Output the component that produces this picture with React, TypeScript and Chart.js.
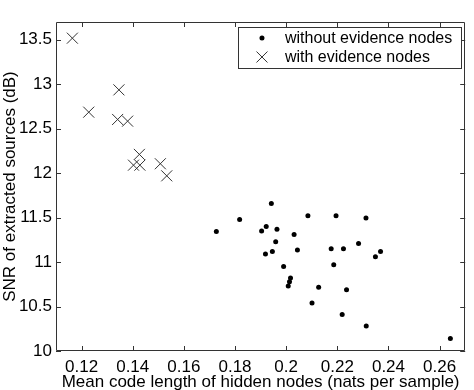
import React, { useEffect, useRef } from "react";
import { Chart, registerables } from "chart.js";

Chart.register(...registerables);

const withoutX = [0.1727, 0.1818, 0.1942, 0.1922, 0.1904, 0.1964, 0.1959, 0.1946, 0.1919, 0.2031, 0.2044, 0.199, 0.2017, 0.2013, 0.2008, 0.2085, 0.2127, 0.2101, 0.2195, 0.2176, 0.2224, 0.2186, 0.2236, 0.2219, 0.2312, 0.2283, 0.2349, 0.2369, 0.2313, 0.2642];
const withoutY = [11.345, 11.48, 11.66, 11.4, 11.35, 11.37, 11.23, 11.12, 11.09, 11.31, 11.135, 10.95, 10.82, 10.78, 10.73, 11.52, 10.716, 10.54, 11.52, 11.15, 11.15, 10.97, 10.69, 10.41, 11.495, 11.21, 11.06, 11.12, 10.28, 10.14];
const withX = [0.1164, 0.1228, 0.1346, 0.1341, 0.138, 0.1426, 0.1403, 0.1428, 0.1508, 0.1533];
const withY = [13.518, 12.686, 12.937, 12.604, 12.585, 12.211, 12.09, 12.09, 12.106, 11.97];

const xTicks = [0.12, 0.14, 0.16, 0.18, 0.2, 0.22, 0.24, 0.26];
const yTicks = [10, 10.5, 11, 11.5, 12, 12.5, 13, 13.5];
const seriesLabels = ["without evidence nodes", "with evidence nodes"];
const xTitle = "Mean code length of hidden nodes (nats per sample)";
const yTitle = "SNR of extracted sources (dB)";

const FONT = "'Liberation Sans', Arial, Helvetica, sans-serif";

const framePlugin = {
  id: "frame",
  afterDraw(chart: any) {
    const { ctx, chartArea: a, scales } = chart;
    ctx.save();
    ctx.strokeStyle = "#333";
    ctx.lineWidth = 1;
    ctx.beginPath();
    ctx.rect(Math.round(a.left) + 0.5, Math.round(a.top) + 0.5, Math.round(a.right - a.left) - 1, Math.round(a.bottom - a.top) - 1);
    ctx.stroke();
    const L = 5;
    ctx.beginPath();
    xTicks.forEach((v) => {
      const px = Math.round(scales.x.getPixelForValue(v)) + 0.5;
      ctx.moveTo(px, a.bottom);
      ctx.lineTo(px, a.bottom - L);
      ctx.moveTo(px, a.top);
      ctx.lineTo(px, a.top + L);
    });
    yTicks.forEach((v) => {
      const py = Math.round(scales.y.getPixelForValue(v)) + 0.5;
      ctx.moveTo(a.left, py);
      ctx.lineTo(a.left + L, py);
      ctx.moveTo(a.right, py);
      ctx.lineTo(a.right - L, py);
    });
    ctx.stroke();

    // legend
    ctx.font = `16px ${FONT}`;
    const tw = Math.max(...seriesLabels.map((s) => ctx.measureText(s).width));
    const boxRight = a.right - 4;
    const textX = boxRight - 9 - tw;
    const markerX = textX - 23;
    const boxLeft = markerX - 24;
    const boxTop = a.top + 5;
    const boxBottom = a.top + 46;
    ctx.fillStyle = "#fff";
    ctx.fillRect(boxLeft, boxTop, boxRight - boxLeft, boxBottom - boxTop);
    ctx.strokeStyle = "#333";
    ctx.strokeRect(Math.round(boxLeft) + 0.5, boxTop + 0.5, Math.round(boxRight - boxLeft), boxBottom - boxTop);
    const rows = [a.top + 16, a.top + 35];
    ctx.fillStyle = "#000";
    ctx.textBaseline = "middle";
    ctx.textAlign = "left";
    seriesLabels.forEach((s, i) => ctx.fillText(s, textX, rows[i] + 1));
    ctx.beginPath();
    ctx.arc(markerX, rows[0], 2.5, 0, Math.PI * 2);
    ctx.fill();
    const h = 5.5;
    ctx.beginPath();
    ctx.strokeStyle = "#333";
    ctx.moveTo(markerX - h, rows[1] - h);
    ctx.lineTo(markerX + h, rows[1] + h);
    ctx.moveTo(markerX - h, rows[1] + h);
    ctx.lineTo(markerX + h, rows[1] - h);
    ctx.stroke();
    ctx.restore();
  },
};

export default function App() {
  const ref = useRef<HTMLCanvasElement | null>(null);
  useEffect(() => {
    document.body.style.margin = "0";
    const chart = new Chart(ref.current as HTMLCanvasElement, {
      type: "scatter",
      data: {
        datasets: [
          {
            label: seriesLabels[0],
            data: withoutX.map((x, i) => ({ x, y: withoutY[i] })),
            pointStyle: "circle",
            pointRadius: 2.5,
            backgroundColor: "#000",
            borderColor: "#000",
            borderWidth: 0,
          },
          {
            label: seriesLabels[1],
            data: withX.map((x, i) => ({ x, y: withY[i] })),
            pointStyle: "crossRot",
            pointRadius: 7.8,
            backgroundColor: "#333",
            borderColor: "#333",
            borderWidth: 1,
          },
        ],
      },
      options: {
        animation: false,
        responsive: false,
        layout: { padding: { top: 22, right: 2, left: 0, bottom: 0 } },
        plugins: { legend: { display: false }, tooltip: { enabled: false } },
        scales: {
          x: {
            type: "linear",
            min: 0.11,
            max: 0.27,
            afterBuildTicks: (s: any) => {
              s.ticks = xTicks.map((value) => ({ value }));
            },
            afterFit: (s: any) => {
              s.height = 39;
            },
            grid: { display: false, drawTicks: false },
            border: { display: false },
            ticks: {
              padding: 6,
              color: "#000",
              font: { family: FONT, size: 17 },
              callback: (v: any) => String(v),
              maxRotation: 0,
              autoSkip: false,
            },
            title: {
              display: true,
              text: xTitle,
              color: "#000",
              font: { family: FONT, size: 17 },
              padding: { top: 0, bottom: -3 },
            },
          },
          y: {
            type: "linear",
            min: 10,
            max: 13.7,
            afterBuildTicks: (s: any) => {
              s.ticks = yTicks.map((value) => ({ value }));
            },
            afterFit: (s: any) => {
              s.width = 56;
            },
            grid: { display: false, drawTicks: false },
            border: { display: false },
            ticks: {
              padding: 4,
              color: "#000",
              font: { family: FONT, size: 17 },
              callback: (v: any) => String(v),
              autoSkip: false,
            },
            title: {
              display: true,
              text: yTitle,
              color: "#000",
              font: { family: FONT, size: 17 },
              padding: { top: 0, bottom: 0 },
            },
          },
        },
      },
      plugins: [framePlugin],
    });
    return () => chart.destroy();
  }, []);
  return <canvas ref={ref} width={474} height={390} style={{ display: "block" }} />;
}
